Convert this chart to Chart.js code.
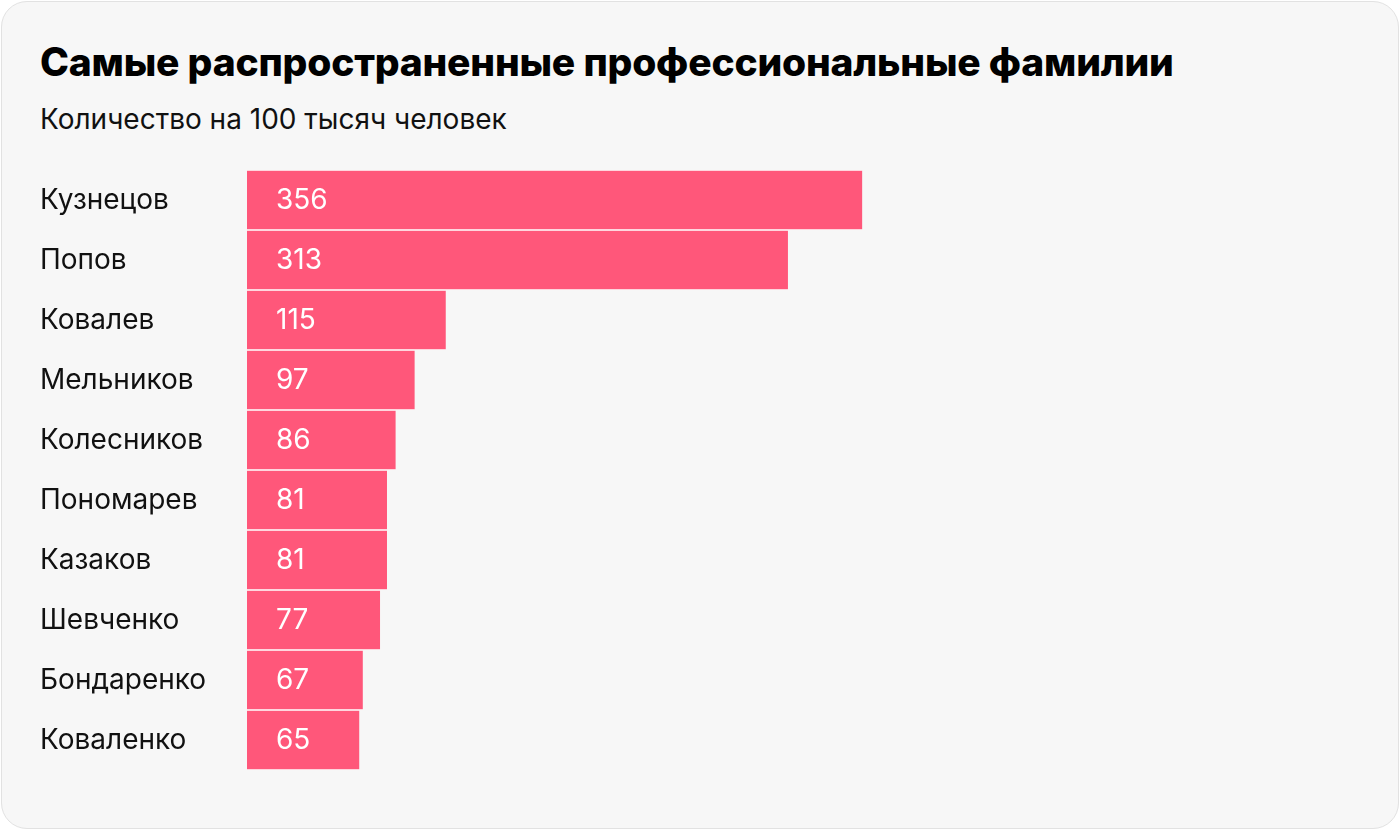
<!DOCTYPE html>
<html><head><meta charset="utf-8">
<script src="https://cdn.jsdelivr.net/npm/chart.js@4/dist/chart.umd.min.js"></script>
<style>
body{margin:0;background:#fff;font-family:Inter,"Noto Sans",sans-serif;}
#card{position:absolute;left:1px;top:1px;width:1396px;height:826px;border:1px solid #e2e2e2;border-radius:26px;background:#f7f7f7;}
h1{position:absolute;left:40px;top:38px;margin:0;font-size:39px;font-weight:800;color:#000;letter-spacing:-0.2px}
#sub{position:absolute;left:40px;top:102px;font-size:28px;color:#111}
#wrap{position:absolute;left:0;top:165px;width:1400px;height:610px}
</style></head><body>
<div id="card"></div>
<h1>Самые распространенные профессиональные фамилии</h1>
<div id="sub">Количество на 100 тысяч человек</div>
<div id="wrap"><canvas id="c"></canvas></div>
<script>
const categories=["Кузнецов","Попов","Ковалев","Мельников","Колесников","Пономарев","Казаков","Шевченко","Бондаренко","Коваленко"];
const values=[356,313,115,97,86,81,81,77,67,65];
const labelPlugin={id:'lbl',afterDatasetsDraw(ch){
 const ctx=ch.ctx,y=ch.scales.y,x=ch.scales.x;ctx.save();
 ctx.textBaseline='middle';ctx.font='28px Inter, "Noto Sans", sans-serif';
 categories.forEach((c,i)=>{const py=y.getPixelForValue(i);
  ctx.fillStyle='#111';ctx.textAlign='left';ctx.fillText(c,40,py+1);
  ctx.fillStyle='#fff';ctx.fillText(String(values[i]),x.getPixelForValue(0)+29,py+1);});
 ctx.restore();}};
new Chart(document.getElementById('c'),{type:'bar',
 data:{labels:categories,datasets:[{data:values,backgroundColor:'#ff577a',borderColor:'#ffffff',borderWidth:{top:1,bottom:1,right:0,left:0},borderSkipped:false,barPercentage:1,categoryPercentage:1}]},
 options:{indexAxis:'y',responsive:true,maintainAspectRatio:false,animation:false,
  layout:{padding:{left:247,right:40,top:5,bottom:5}},
  plugins:{legend:{display:false},tooltip:{enabled:false}},
  scales:{x:{min:0,max:644,display:false},y:{display:false}}},
 plugins:[labelPlugin]});
</script></body></html>
